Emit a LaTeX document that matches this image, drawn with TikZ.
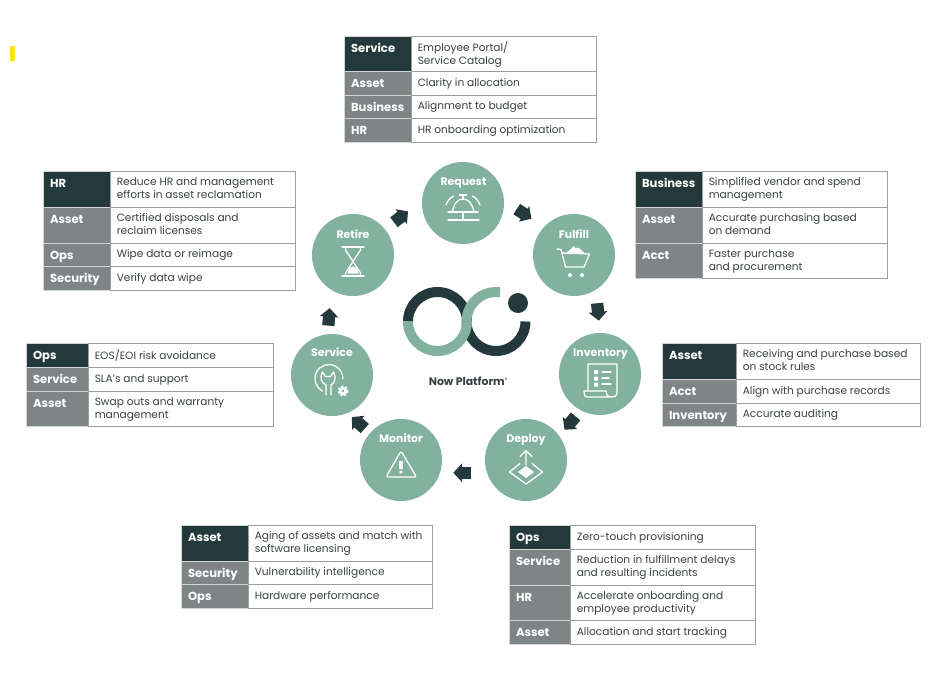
\documentclass[tikz,border=0pt]{standalone}
\usepackage{fontspec}
\setmainfont{Poppins}
\usetikzlibrary{arrows.meta,calc}
\definecolor{darkc}{HTML}{24393B}
\definecolor{grayc}{HTML}{7F8486}
\definecolor{greenc}{HTML}{82B29F}
\definecolor{borderc}{HTML}{9A9C9E}
\definecolor{sepc}{HTML}{D4D6D6}
\definecolor{textc}{HTML}{3A4142}
\definecolor{yellowc}{HTML}{FFE11F}
\tikzset{
  labdark/.style={fill=darkc,draw=sepc,line width=.6pt},
  labgray/.style={fill=grayc,draw=sepc,line width=.6pt},
  txtcell/.style={fill=white,draw=borderc,line width=.7pt},
  labtext/.style={anchor=base west,inner sep=0pt,text=white,font=\fontsize{8.7}{10}\selectfont\bfseries},
  bodytext/.style={anchor=west,inner sep=0pt,align=left,text=textc,font=\fontsize{7.95}{9.7}\selectfont},
  stage/.style={circle,fill=greenc,draw=none,minimum size=61.5pt,inner sep=0pt},
  stagetext/.style={anchor=base,inner sep=0pt,text=white,font=\fontsize{8.2}{10}\selectfont\bfseries},
  flow/.style={draw=darkc,line width=9.2pt,-{Triangle[width=13.6pt,length=6.5pt]}},
  icon/.style={draw=white,line width=.95pt,line cap=round,line join=round,fill=none},
}
\newcommand\trow[9]{%
  \path[#7] (#2-.7,#5) rectangle (#3,#6);
  \path[txtcell] (#3,#5) rectangle (#4,#6);
  \node[labtext] (#1l) at ($(#2-.7,#5)+(6.5,16.3)$) {#8};
  \node[bodytext] (#1t) at ($(#3,#5)!.5!(#3,#6)+(6.5,.6)$) {\vrule height 6pt depth 0pt width 0pt\relax #9\vrule height 0pt depth 1.8pt width 0pt\relax};
}
\newcommand\flowline[4]{\draw[flow,shorten <=#3*.75pt,shorten >=#4*.75pt] (#1) -- (#2);}
\begin{document}
\begin{tikzpicture}[x=.75pt,y=-.75pt]
\useasboundingbox (0,0) rectangle (950,687);
\fill[white] (0,0) rectangle (950,687);
\fill[yellowc] (10,46) rectangle (14.5,61);
% top table
\trow{a1}{345}{411}{596}{36}{71}{labdark}{Service}{Employee Portal/\\Service Catalog}
\trow{a2}{345}{411}{596}{71}{95}{labgray}{Asset}{Clarity in allocation}
\trow{a3}{345}{411}{596}{95}{118}{labgray}{Business}{Alignment to budget}
\trow{a4}{345}{411}{596}{118}{142}{labgray}{HR}{HR onboarding optimization}
% left upper table
\trow{b1}{44}{110}{295}{171}{207}{labdark}{HR}{Reduce HR and management\\efforts in asset reclamation}
\trow{b2}{44}{110}{295}{207}{243}{labgray}{Asset}{Certified disposals and\\reclaim licenses}
\trow{b3}{44}{110}{295}{243}{266}{labgray}{Ops}{Wipe data or reimage}
\trow{b4}{44}{110}{295}{266}{290}{labgray}{Security}{Verify data wipe}
% right upper table
\trow{c1}{636}{702}{887}{171}{207}{labdark}{Business}{Simplified vendor and spend\\management}
\trow{c2}{636}{702}{887}{207}{243}{labgray}{Asset}{Accurate purchasing based\\on demand}
\trow{c3}{636}{702}{887}{243}{278}{labgray}{Acct}{Faster purchase\\and procurement}
% right inventory table
\trow{d1}{663}{736}{920}{343}{379}{labdark}{Asset}{Receiving and purchase based\\on stock rules}
\trow{d2}{663}{736}{920}{379}{403}{labgray}{Acct}{Align with purchase records}
\trow{d3}{663}{736}{920}{403}{426}{labgray}{Inventory}{Accurate auditing}
% left service table
\trow{e1}{27}{88}{273}{343}{367}{labdark}{Ops}{EOS/EOI risk avoidance}
\trow{e2}{27}{88}{273}{367}{391}{labgray}{Service}{SLA's and support}
\trow{e3}{27}{88}{273}{391}{426}{labgray}{Asset}{Swap outs and warranty\\management}
% bottom left table
\trow{f1}{182}{248}{432}{525}{561}{labdark}{Asset}{Aging of assets and match with\\software licensing}
\trow{f2}{182}{248}{432}{561}{584}{labgray}{Security}{Vulnerability intelligence}
\trow{f3}{182}{248}{432}{584}{608}{labgray}{Ops}{Hardware performance}
% bottom right table
\trow{g1}{510}{570}{755}{525}{549}{labdark}{Ops}{Zero-touch provisioning}
\trow{g2}{510}{570}{755}{549}{585}{labgray}{Service}{Reduction in fulfillment delays\\and resulting incidents}
\trow{g3}{510}{570}{755}{585}{620}{labgray}{HR}{Accelerate onboarding and\\employee productivity}
\trow{g4}{510}{570}{755}{620}{644}{labgray}{Asset}{Allocation and start tracking}
% stages
\node[stage] (request) at (463,203) {};
\node[stage] (fulfill) at (574,255) {};
\node[stage] (inventory) at (600,374) {};
\node[stage] (deploy) at (526,460) {};
\node[stage] (monitor) at (401,460) {};
\node[stage] (service) at (332,375) {};
\node[stage] (retire) at (353,255) {};
\node[stagetext] (requestt) at (463.5,185) {Request};
\node[stagetext] (fulfillt) at (574,238) {Fulfill};
\node[stagetext] (inventoryt) at (600.5,356) {Inventory};
\node[stagetext] (deployt) at (526,442) {Deploy};
\node[stagetext] (monitort) at (401,442) {Monitor};
\node[stagetext] (servicet) at (332,356) {Service};
\node[stagetext] (retiret) at (353,238) {Retire};
% connectors
\flowline{retire.39}{request.177.5}{11.2}{17.3}
\flowline{request.3}{fulfill.137}{15}{14.9}
\flowline{fulfill.-58}{inventory.90}{13.3}{12.2}
\flowline{inventory.242}{deploy.36}{7.8}{7.9}
\flowline{deploy.198.5}{monitor.-18.5}{16.1}{13.1}
\flowline{monitor.139.6}{service.-68.7}{6.7}{5.8}
\flowline{service.96.6}{retire.238.6}{8.4}{18.2}
% logo
\draw[darkc,line width=7.5pt] (408,321.5) arc (180:360:29.5);
\draw[darkc,line width=7.5pt] (466.5,321.5) arc (180:0:29.5);
\draw[greenc,line width=7.5pt] (408,321.5) arc (180:0:29.5);
\draw[greenc,line width=7.5pt] (466.5,321.5) arc (180:278:29.5);
\fill[darkc] (518,303) circle[radius=10];
\node[inner sep=0pt,text=textc,font=\fontsize{8.2}{9}\selectfont\bfseries] (platform) at (468,381) {Now Platform\raisebox{2.5pt}{\fontsize{3.5}{4}\selectfont ®}};
% bell
\draw[icon] (448,212) -- (478,212) (448,220) -- (479,220) (463,212) -- (463,220);
\draw[icon] (452.5,212) .. controls (454,203) and (458,199) .. (463,199) .. controls (468,199) and (472,203) .. (474,212);
\draw[icon] (463,199) -- (463,195) (459.5,195) -- (466.5,195);
\draw[icon] (446,205) .. controls (447.5,201) and (450,198) .. (453.5,196) (480,205) .. controls (478.5,201) and (476,198) .. (472.5,196);
% hourglass
\draw[icon] (342,247) -- (364,247) (342,276) -- (364,276);
\draw[icon] (345.5,247) -- (345.5,250) -- (353,261.5) -- (345.5,273) -- (345.5,276);
\draw[icon] (360.5,247) -- (360.5,250) -- (353,261.5) -- (360.5,273) -- (360.5,276);
\fill[white] (347.5,273.5) .. controls (348,268) and (351,266.5) .. (353,266.5) .. controls (355,266.5) and (358,268) .. (358.5,273.5) -- cycle;
% cart
\draw[icon] (557,249) -- (561,249.5) -- (565.5,267) -- (584,267) -- (589.5,254) -- (561.5,253);
\fill[white] (566,253) -- (571,249) -- (573.5,246) -- (576,248.5) -- (578,247.5) -- (581,249.5) -- (585,253.5) -- cycle;
\fill[white] (570,275) circle[radius=2] (582,275) circle[radius=2];
% scroll
\draw[icon] (588,391) -- (588,364) -- (617,364) -- (617,393) .. controls (617,396) and (615,397) .. (612,397) -- (587,397) .. controls (584,397) and (584,393) .. (584,391) -- (606,391) .. controls (606,394) and (607,397) .. (612,397);
\fill[white] (594,370) rectangle (598,374) (594,376.5) rectangle (598,380.5) (594,382.5) rectangle (598,386.5);
\draw[icon] (602,372) -- (611,372) (602,378) -- (609,378) (602,384) -- (611,384);
% deploy
\draw[icon] (526,465) -- (526,450.5) (520,456.5) -- (526,450.5) -- (532,456.5);
\draw[icon] (520,463.5) -- (509.5,472) -- (526,484) -- (542.5,472) -- (532,463.5);
\fill[white] (518,472) -- (526,466) -- (534,472) -- (526,478) -- cycle;
% monitor
\draw[icon,rounded corners=1.5pt] (401,451) -- (416.5,477) -- (386,477) -- cycle;
\fill[white] (399.3,461) rectangle (402.7,468.5);
\fill[white] (401,472) circle[radius=1.8];
% service
\draw[icon] (322.6,391) arc (117:360:14);
\draw[icon] (326,395) -- (326,385) .. controls (321,383) and (319.5,377) .. (322.5,372) -- (325.5,376.5) -- (330.5,376.5) -- (333.5,372) .. controls (336.5,377) and (335,383) .. (331,385) -- (331,395);
\draw[white,line width=1.5pt,dash pattern=on 1.5pt off 1.4pt] (343,391) circle[radius=4.6];
\fill[white,even odd rule] (343,391) circle[radius=4.2] (343,391) circle[radius=1.7];
\end{tikzpicture}
\end{document}
